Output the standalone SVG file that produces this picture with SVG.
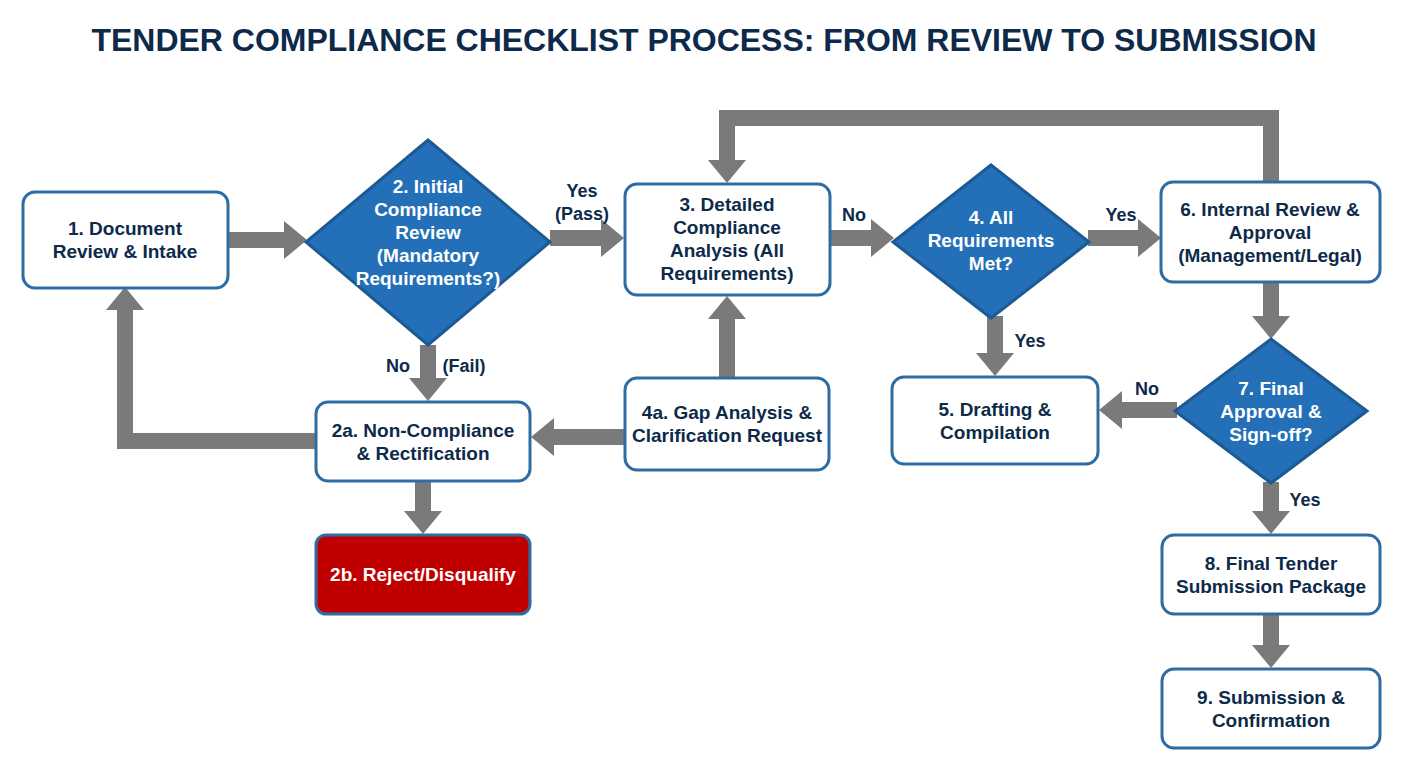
<svg xmlns="http://www.w3.org/2000/svg" width="1408" height="768" viewBox="0 0 1408 768">
<defs>
<marker id="ah" markerUnits="userSpaceOnUse" markerWidth="24" markerHeight="40" refX="0" refY="19" orient="auto"><path d="M0,0 L23,19 L0,38 Z" fill="#7a7a7a"/></marker>
<style>
.c{fill:none;stroke:#7a7a7a;stroke-width:16;stroke-linejoin:miter}
.box{fill:#fff;stroke:#2e6da4;stroke-width:3}
.dia{fill:#2470b8;stroke:#1d5a94;stroke-width:3}
.t{font-family:"Liberation Sans",Arial,sans-serif;font-weight:bold;font-size:19px;fill:#0d2a4a;text-anchor:middle}
.w{fill:#fff}
.l{font-family:"Liberation Sans",Arial,sans-serif;font-weight:bold;font-size:18px;fill:#0d2a4a;text-anchor:middle}
</style>
</defs>
<rect width="1408" height="768" fill="#fff"/>
<text x="704" y="51" font-family="Liberation Sans,Arial,sans-serif" font-weight="bold" font-size="31" fill="#0d2a4a" text-anchor="middle" textLength="1225" lengthAdjust="spacingAndGlyphs">TENDER COMPLIANCE CHECKLIST PROCESS: FROM REVIEW TO SUBMISSION</text>
<g id="connectors">
<line class="c" x1="228" y1="240" x2="284" y2="240" marker-end="url(#ah)"/>
<line class="c" x1="550" y1="238" x2="601" y2="238" marker-end="url(#ah)"/>
<line class="c" x1="428" y1="345" x2="428" y2="378" marker-end="url(#ah)"/>
<polyline class="c" points="316,441 125,441 125,310" marker-end="url(#ah)"/>
<line class="c" x1="625" y1="437" x2="554" y2="437" marker-end="url(#ah)"/>
<line class="c" x1="727" y1="378" x2="727" y2="319" marker-end="url(#ah)"/>
<line class="c" x1="830" y1="238" x2="871" y2="238" marker-end="url(#ah)"/>
<line class="c" x1="1088" y1="238" x2="1138" y2="238" marker-end="url(#ah)"/>
<line class="c" x1="995" y1="316" x2="995" y2="353" marker-end="url(#ah)"/>
<polyline class="c" points="1271,182 1271,118 727,118 727,160" marker-end="url(#ah)"/>
<line class="c" x1="1271" y1="282" x2="1271" y2="316" marker-end="url(#ah)"/>
<line class="c" x1="1177" y1="410" x2="1122" y2="410" marker-end="url(#ah)"/>
<line class="c" x1="1271" y1="482" x2="1271" y2="511" marker-end="url(#ah)"/>
<line class="c" x1="1271" y1="614" x2="1271" y2="645" marker-end="url(#ah)"/>
<line class="c" x1="423" y1="481" x2="423" y2="511" marker-end="url(#ah)"/>
<text class="l" x="582" y="197">Yes</text><text class="l" x="582" y="220">(Pass)</text>
<text class="l" x="398" y="372">No</text><text class="l" x="464" y="372">(Fail)</text>
<text class="l" x="854" y="221">No</text>
<text class="l" x="1121" y="221">Yes</text>
<text class="l" x="1030" y="347">Yes</text>
<text class="l" x="1147" y="395">No</text>
<text class="l" x="1305" y="506">Yes</text>
</g>
<g id="n1"><rect class="box" x="23" y="192" width="205" height="96" rx="12"/><text class="t" x="125" y="235">1. Document</text><text class="t" x="125" y="258">Review &amp; Intake</text></g>
<g id="n2"><polygon class="dia" points="428,140 550,242 428,345 306,242"/><text class="t w" x="428" y="193">2. Initial</text><text class="t w" x="428" y="216">Compliance</text><text class="t w" x="428" y="239">Review</text><text class="t w" x="428" y="262">(Mandatory</text><text class="t w" x="428" y="285">Requirements?)</text></g>
<g id="n3"><rect class="box" x="625" y="184" width="205" height="111" rx="12"/><text class="t" x="727" y="211">3. Detailed</text><text class="t" x="727" y="234">Compliance</text><text class="t" x="727" y="257">Analysis (All</text><text class="t" x="727" y="280">Requirements)</text></g>
<g id="n4"><polygon class="dia" points="991,165 1089,242 991,318 893,242"/><text class="t w" x="991" y="224">4. All</text><text class="t w" x="991" y="247">Requirements</text><text class="t w" x="991" y="270">Met?</text></g>
<g id="n6"><rect class="box" x="1161" y="182" width="219" height="100" rx="12"/><text class="t" x="1270" y="216">6. Internal Review &amp;</text><text class="t" x="1270" y="239">Approval</text><text class="t" x="1270" y="262">(Management/Legal)</text></g>
<g id="n7"><polygon class="dia" points="1271,339 1367,411 1271,483 1175,411"/><text class="t w" x="1271" y="395">7. Final</text><text class="t w" x="1271" y="418">Approval &amp;</text><text class="t w" x="1271" y="441">Sign-off?</text></g>
<g id="n2a"><rect class="box" x="316" y="402" width="214" height="79" rx="12"/><text class="t" x="423" y="437">2a. Non-Compliance</text><text class="t" x="423" y="460">&amp; Rectification</text></g>
<g id="n2b"><rect x="316" y="535" width="214" height="79" rx="10" fill="#c00000" stroke="#2e6da4" stroke-width="3"/><text class="t w" x="423" y="581">2b. Reject/Disqualify</text></g>
<g id="n4a"><rect class="box" x="625" y="378" width="204" height="92" rx="12"/><text class="t" x="727" y="419">4a. Gap Analysis &amp;</text><text class="t" x="727" y="442">Clarification Request</text></g>
<g id="n5"><rect class="box" x="892" y="377" width="206" height="87" rx="12"/><text class="t" x="995" y="416">5. Drafting &amp;</text><text class="t" x="995" y="439">Compilation</text></g>
<g id="n8"><rect class="box" x="1162" y="535" width="218" height="79" rx="12"/><text class="t" x="1271" y="570">8. Final Tender</text><text class="t" x="1271" y="593">Submission Package</text></g>
<g id="n9"><rect class="box" x="1162" y="669" width="218" height="79" rx="12"/><text class="t" x="1271" y="704">9. Submission &amp;</text><text class="t" x="1271" y="727">Confirmation</text></g>
</svg>
